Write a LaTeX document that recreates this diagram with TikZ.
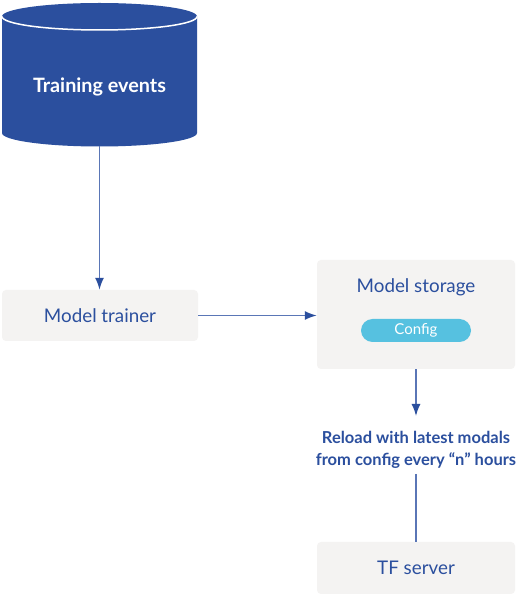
\documentclass[tikz,border=0pt]{standalone}
\usepackage{fontspec}
\setmainfont{Lato}
\usetikzlibrary{arrows.meta}
\definecolor{dblue}{HTML}{2B4F9E}
\definecolor{lblue}{HTML}{5A76B6}
\definecolor{boxgray}{HTML}{F4F3F2}
\definecolor{pill}{HTML}{56C1E0}
\tikzset{
  box/.style={fill=boxgray, rounded corners=4pt, inner sep=0pt, text=dblue, font=\fontsize{18.8}{22}\selectfont},
  conn/.style={draw=lblue, line width=1.5pt},
  arr/.style={conn, -{Latex[length=12pt,width=9pt,color=dblue]}},
}
\begin{document}
\begin{tikzpicture}[x=1pt,y=1pt]
\useasboundingbox (0,0) rectangle (527,595);
\fill[white] (0,0) rectangle (527,595);
% cylinder
\fill[dblue] (2,578.5) -- (2,462) arc[start angle=180,end angle=360,x radius=97.5pt,y radius=13.5pt] -- (197,578.5) arc[start angle=0,end angle=180,x radius=97.5pt,y radius=13.5pt] -- cycle;
\draw[white, line width=1.5pt] (2,578.5) arc[start angle=180,end angle=360,x radius=97.5pt,y radius=13.5pt];
\node[text=white, font=\bfseries\fontsize{19.8}{22}\selectfont] (events) at (99.5,508.5) {Training events};
\coordinate (evbot) at (99.5,448.5);
% boxes
\node[box, minimum width=196pt, minimum height=51pt] (trainer) at (100,279.5) {Model trainer};
\node[box, minimum width=198pt, minimum height=109pt] (storage) at (416,280.5) {};
\node[text=dblue, font=\fontsize{18.8}{22}\selectfont] (stlabel) at (416,307.5) {Model storage};
\node[fill=pill, rounded corners=11.5pt, minimum width=110pt, minimum height=23pt, inner sep=0pt, text=white, font=\fontsize{15}{17}\selectfont] (config) at (416,264.5) {Config};
\node[text=dblue, font=\bfseries\fontsize{16.5}{22}\selectfont, align=center, inner sep=0pt] (reload) at (416,145.5) {Reload with latest modals\\from config every “n” hours};
\node[box, minimum width=198pt, minimum height=52pt] (tf) at (416,27) {TF server};
\coordinate (reltop) at (416,179);
\coordinate (relbot) at (416,121);
% connectors
\draw[arr] (evbot) -- (trainer.north -| evbot);
\draw[arr] (trainer.east) -- (trainer.east -| storage.west);
\draw[arr] (storage.south) -- (reltop);
\draw[conn] (relbot) -- (tf.north);
\end{tikzpicture}
\end{document}
